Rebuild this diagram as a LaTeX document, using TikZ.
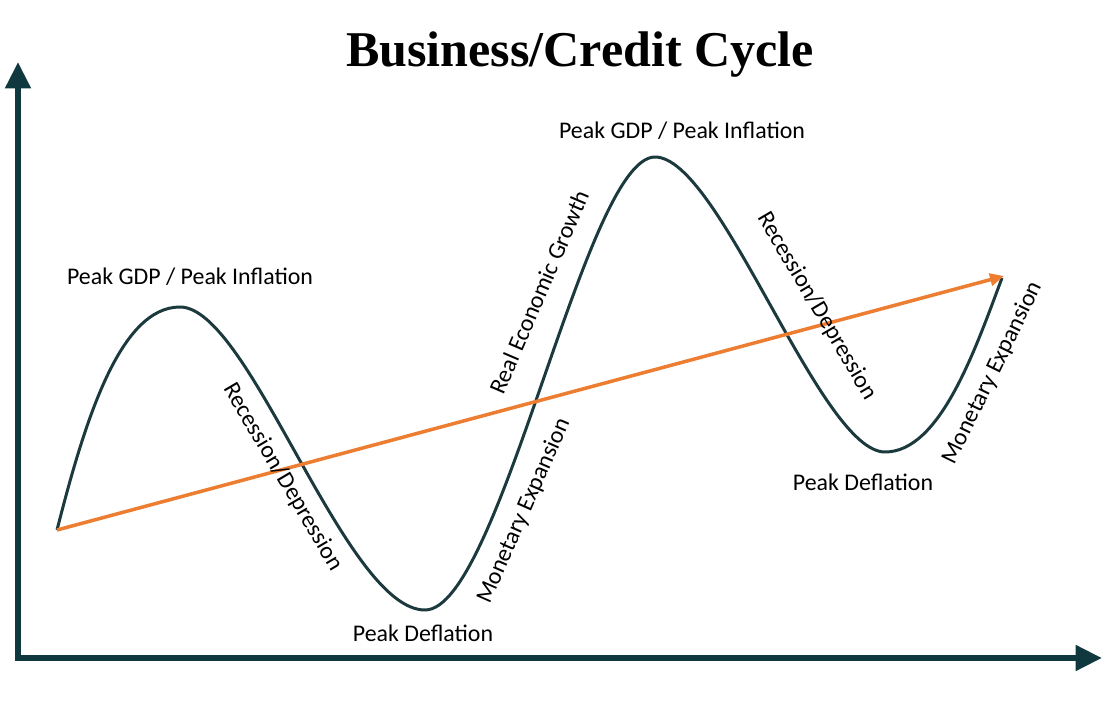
\documentclass[tikz,border=0pt]{standalone}
\usepackage{fontspec}
\setmainfont{Carlito}
\newfontfamily\titlefont{Liberation Serif}
\usetikzlibrary{arrows.meta}
\definecolor{axiscolor}{HTML}{10383F}
\definecolor{cyclecolor}{HTML}{1C3A3E}
\definecolor{trendcolor}{HTML}{ED7D31}

\begin{document}
\begin{tikzpicture}[x=0.02cm, y=-0.02cm,
    lbl/.style={font=\fontsize{13.6}{16}\selectfont, inner sep=1pt},
    axisline/.style={axiscolor, line width=3.4pt, {Triangle[length=15pt,width=14pt]}-{Triangle[length=15pt,width=14pt]}},
    cycleline/.style={cyclecolor, line width=1.7pt},
    trendline/.style={trendcolor, line width=2pt, -{Triangle[length=8pt,width=7pt]}}]
  \useasboundingbox (0,0) rectangle (1107,720);

  % Title
  \node[font=\titlefont\bfseries\fontsize{28.5}{32}\selectfont] (title) at (580,55) {Business/Credit Cycle};

  % Axes
  \coordinate (ytop) at (18,62);
  \coordinate (origin) at (18,658);
  \coordinate (xend) at (1102,658);
  \draw[axisline] (ytop) -- (origin) -- (xend);

  % Cycle turning points
  \coordinate (start) at (57,530);
  \coordinate (peak1) at (180,307);
  \coordinate (trough1) at (425,610);
  \coordinate (peak2) at (655,157);
  \coordinate (trough2) at (885,452);
  \coordinate (finish) at (1002,278);

  % Cycle
  \draw[cycleline] (start) .. controls (85,420) and (120,307) .. (peak1)
    .. controls (250,307) and (345,610) .. (trough1)
    .. controls (500,610) and (585,157) .. (peak2)
    .. controls (720,157) and (820,452) .. (trough2)
    .. controls (940,452) and (975,350) .. (finish);

  % Trend
  \coordinate (trendend) at (1004,276);
  \draw[trendline] (start) -- (trendend);

  % Labels
  \node[lbl] (gdp1) at (190,277) {Peak GDP / Peak Inflation};
  \node[lbl] (gdp2) at (682,131) {Peak GDP / Peak Inflation};
  \node[lbl] (defl1) at (423,633) {Peak Deflation};
  \node[lbl] (defl2) at (863,482) {Peak Deflation};
  \node[lbl, rotate=-59.5] (rec1) at (283,477) {Recession/Depression};
  \node[lbl, rotate=-59.5] (rec2) at (817,306) {Recession/Depression};
  \node[lbl, rotate=66.3] (mon1) at (524,511) {Monetary Expansion};
  \node[lbl, rotate=64] (mon2) at (993,373) {Monetary Expansion};
  \node[lbl, rotate=66.8] (growth) at (539,292) {Real Economic Growth};
\end{tikzpicture}
\end{document}
